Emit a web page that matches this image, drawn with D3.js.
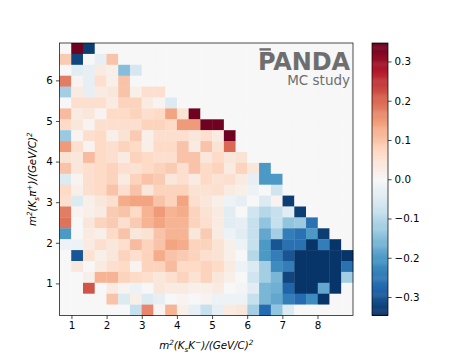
<!DOCTYPE html>
<html><head><meta charset="utf-8">
<script src="https://cdn.jsdelivr.net/npm/d3@7"></script>
<style>
html,body{margin:0;padding:0;background:#fff;}
text{font-family:"DejaVu Sans",sans-serif;}
</style></head>
<body>
<svg id="chart" width="474" height="355"></svg>
<script>
// ---- data ----
const nBins = 25;
const xRange = [0.66, 9.01];
const yRange = [0.21, 6.92];
const vRange = [-0.347, 0.347];
const xTicks = [1, 2, 3, 4, 5, 6, 7, 8];
const yTicks = [1, 2, 3, 4, 5, 6];
const cTicks = [-0.3, -0.2, -0.1, 0.0, 0.1, 0.2, 0.3];
// rows listed from top (highest y) to bottom, 25 columns each (low x -> high x)
const zRows = [
 [0.0,0.34,-0.33,0,0,0,0,0,0,0,0,0,0,0,0,0,0,0,0,0,0,0,0,0,0],
 [0.09,-0.32,0.0,-0.03,0.1,0,0,0,0,0,0,0,0,0,0,0,0,0,0,0,0,0,0,0,0],
 [0.0,-0.04,-0.03,0.03,0.02,-0.15,-0.06,0,0,0,0,0,0,0,0,0,0,0,0,0,0,0,0,0,0],
 [0.18,0.01,-0.03,0.06,0.02,0.1,0,0,0,0,0,0,0,0,0,0,0,0,0,0,0,0,0,0,0],
 [-0.12,0.03,-0.03,0.03,0.04,0.1,0.02,0.06,0.06,0,0,0,0,0,0,0,0,0,0,0,0,0,0,0,0],
 [0.0,0.06,0.06,0.06,0.03,0.08,0.08,0.03,0.01,-0.05,0,0,0,0,0,0,0,0,0,0,0,0,0,0,0],
 [0.11,0.03,0.04,0.01,0.07,0.07,0.08,0.06,0.07,0.14,0.05,0.34,0,0,0,0,0,0,0,0,0,0,0,0,0],
 [0.07,0.04,0.01,0.06,0.06,0.06,0.06,0.08,0.08,0.07,0.15,0.15,0.34,0.34,0,0,0,0,0,0,0,0,0,0,0],
 [-0.13,0.01,0.06,0.07,0.02,0.05,0.09,0.02,0.06,0.06,0.06,0.04,0.06,0.03,0.34,0,0,0,0,0,0,0,0,0,0],
 [0.15,0.06,0.01,0.07,0.06,0.08,0.07,0.02,0.07,0.07,0.1,0.03,0.1,0.05,0.2,0,0,0,0,0,0,0,0,0,0],
 [0.05,0.04,0.11,0.07,0.06,0.03,0.08,0.07,0.06,0.06,0.1,0.1,0.04,0.07,0.04,0.05,0,0,0,0,0,0,0,0,0],
 [0.1,0.04,0.06,0.07,0.08,0.06,0.05,0.07,0.08,0.09,0.06,0.1,0.07,0.08,0.03,0.08,0.04,-0.2,0,0,0,0,0,0,0],
 [-0.05,0.01,0.06,0.07,0.08,0.03,0.08,0.1,0.09,0.04,0.06,0.03,0.07,0.05,0.06,0.03,-0.03,-0.2,-0.2,0,0,0,0,0,0],
 [0.07,0.02,0.06,0.07,0.1,0.06,0.1,0.04,0.08,0.08,0.08,0.05,0.05,0.06,0.03,0.02,-0.02,0.0,-0.07,0,0,0,0,0,0],
 [0.06,-0.05,0.02,0.04,0.06,0.13,0.14,0.14,0.1,0.08,0.14,0.06,0.04,0.02,-0.02,-0.03,0.0,-0.05,0.01,-0.33,0,0,0,0,0],
 [0.18,0.01,0.02,0.03,0.09,0.1,0.07,0.12,0.15,0.12,0.13,0.08,0.05,0.03,-0.04,0.0,-0.07,-0.1,-0.08,-0.04,-0.33,0,0,0,0],
 [0.19,0.0,0.04,0.08,0.09,0.06,0.09,0.12,0.14,0.12,0.12,0.08,0.06,0.03,-0.04,-0.03,-0.08,-0.14,-0.08,-0.14,-0.13,-0.26,0,0,0],
 [-0.2,0.0,0.03,0.02,0.07,0.1,0.04,0.05,0.1,0.12,0.12,0.04,0.09,0.03,-0.02,-0.04,-0.08,-0.18,-0.12,-0.24,-0.26,-0.2,-0.33,0,0],
 [-0.02,-0.02,0.03,0.06,0.04,0.06,0.11,0.08,0.1,0.14,0.13,0.08,0.08,0.05,0.02,-0.02,-0.08,-0.2,-0.3,-0.26,-0.26,-0.34,-0.24,-0.34,0],
 [0.0,-0.3,0.05,0.02,0.04,0.08,0.06,0.08,0.13,0.1,0.09,0.08,0.06,0.05,0.02,0.0,-0.1,-0.2,-0.24,-0.3,-0.34,-0.34,-0.34,-0.34,-0.34],
 [0.0,0.04,0.0,0.03,0.06,0.07,0.01,0.08,0.08,0.11,0.07,0.07,0.08,0.07,0.03,-0.02,-0.05,-0.12,-0.22,-0.24,-0.34,-0.34,-0.34,-0.34,-0.26],
 [0.0,0.0,0.02,0.12,0.12,0.08,0.07,0.06,0.04,0.06,0.08,0.05,0.08,0.04,0.02,0.0,-0.07,-0.12,-0.16,-0.32,-0.34,-0.34,-0.34,-0.34,-0.12],
 [0.0,0.0,0.22,0.0,0.03,0.01,-0.02,0.0,0.04,0.03,0.03,0.02,0.02,0.03,0.0,-0.01,-0.04,-0.16,-0.17,-0.28,-0.34,-0.34,-0.18,-0.34,0],
 [0.0,0.0,0.0,0.0,0.1,-0.05,0.02,-0.05,-0.03,0.0,0.01,0.0,0.01,-0.02,-0.02,-0.02,-0.08,-0.16,-0.18,-0.24,-0.27,-0.22,-0.34,0,0],
 [0,0,0,0,0,0,-0.08,0.17,0.01,0.12,0.02,-0.03,-0.08,-0.03,0.03,0.04,-0.12,-0.27,-0.14,-0.05,0,0,0,0,0]
];
const rdbuColors = ["#053061","#2166ac","#4393c3","#92c5de","#d1e5f0","#f7f7f7","#fddbc7","#f4a582","#d6604d","#b2182b","#67001f"];

// ---- layout ----
const svg = d3.select("#chart");
const L = 59.5, R = 353, T = 43, B = 315.5;
const x = d3.scaleLinear().domain(xRange).range([L, R]);
const y = d3.scaleLinear().domain(yRange).range([B, T]);
const color = d3.scaleLinear()
  .domain(d3.range(11).map(i => vRange[0] + i * (vRange[1] - vRange[0]) / 10))
  .range(rdbuColors).interpolate(d3.interpolateRgb).clamp(true);

const xEdges = d3.range(nBins + 1).map(i => xRange[0] + i * (xRange[1] - xRange[0]) / nBins);
const yEdges = d3.range(nBins + 1).map(i => yRange[0] + i * (yRange[1] - yRange[0]) / nBins);

const cells = [];
zRows.forEach((row, ri) => {
  const yi = nBins - 1 - ri;
  row.forEach((v, ci) => cells.push({x0: xEdges[ci], x1: xEdges[ci + 1], y0: yEdges[yi], y1: yEdges[yi + 1], v}));
});

svg.append("g").selectAll("rect").data(cells).join("rect")
  .attr("x", d => x(d.x0)).attr("y", d => y(d.y1))
  .attr("width", d => x(d.x1) - x(d.x0) + 0.3)
  .attr("height", d => y(d.y0) - y(d.y1) + 0.3)
  .attr("fill", d => color(d.v));

// axes
const fs = 10.3;
const xAxis = svg.append("g").attr("transform", `translate(0,${B})`)
  .call(d3.axisBottom(x).tickValues(xTicks).tickFormat(d3.format("d")).tickSize(3.6).tickPadding(3));
const yAxis = svg.append("g").attr("transform", `translate(${L},0)`)
  .call(d3.axisLeft(y).tickValues(yTicks).tickFormat(d3.format("d")).tickSize(3.6).tickPadding(3));
[xAxis, yAxis].forEach(g => {
  g.select(".domain").remove();
  g.selectAll("text").attr("font-size", fs).attr("font-family", "DejaVu Sans").attr("fill", "#000");
  g.selectAll("line").attr("stroke", "#000").attr("stroke-width", 0.7);
});
svg.append("rect").attr("x", L).attr("y", T).attr("width", R - L).attr("height", B - T)
  .attr("fill", "none").attr("stroke", "#000").attr("stroke-width", 0.7);

// axis labels
const xl = svg.append("text").attr("x", (L + R) / 2).attr("y", 349).attr("text-anchor", "middle")
  .attr("font-size", fs).attr("font-style", "italic");
function fillLabel(t, parts) {
  parts.forEach(p => {
    const ts = t.append("tspan").text(p.t);
    if (p.s === "sup") ts.attr("font-size", fs * 0.7).attr("dy", -4);
    if (p.s === "sub") ts.attr("font-size", fs * 0.7).attr("dy", 2.5);
    if (p.back) ts.attr("dy", p.back);
  });
}
fillLabel(xl, [
  {t: "m"}, {t: "2", s: "sup"}, {t: "(K", back: 4}, {t: "s", s: "sub"}, {t: "K", back: -2.5},
  {t: "\u2212", s: "sup"}, {t: ")/(GeV/C)", back: 4}, {t: "2", s: "sup"}
]);
const yl = svg.append("text").attr("transform", `translate(36,${(T + B) / 2}) rotate(-90)`)
  .attr("text-anchor", "middle").attr("font-size", fs).attr("font-style", "italic");
fillLabel(yl, [
  {t: "m"}, {t: "2", s: "sup"}, {t: "(K", back: 4}, {t: "s", s: "sub"}, {t: "\u03c0", back: -2.5},
  {t: "+", s: "sup"}, {t: ")/(GeV/C)", back: 4}, {t: "2", s: "sup"}
]);

// logo
const logoColor = "#6e6e6e";
const logo = svg.append("text").attr("x", 350).attr("y", 70).attr("text-anchor", "end")
  .attr("font-family", "Liberation Sans, Arial, sans-serif").attr("font-weight", "bold")
  .attr("font-size", 24).attr("fill", logoColor).attr("textLength", 92).attr("lengthAdjust", "spacing")
  .text("PANDA");
const pBox = logo.node().getExtentOfChar(0);
svg.append("rect").attr("x", pBox.x + 1.5).attr("y", 48.2).attr("width", pBox.width - 4).attr("height", 2.4).attr("fill", logoColor);
svg.append("text").attr("x", 350).attr("y", 84.5).attr("text-anchor", "end")
  .attr("font-family", "Liberation Sans, Arial, sans-serif").attr("font-size", 13.5)
  .attr("fill", logoColor).text("MC study");

// colorbar
const cbL = 372, cbW = 16;
const cy = d3.scaleLinear().domain(vRange).range([B, T]);
const steps = 256;
svg.append("g").selectAll("rect").data(d3.range(steps)).join("rect")
  .attr("x", cbL).attr("width", cbW)
  .attr("y", i => cy(vRange[0] + (i + 1) * (vRange[1] - vRange[0]) / steps))
  .attr("height", (B - T) / steps + 0.5)
  .attr("fill", i => color(vRange[0] + (i + 0.5) * (vRange[1] - vRange[0]) / steps));
svg.append("rect").attr("x", cbL).attr("y", T).attr("width", cbW).attr("height", B - T)
  .attr("fill", "none").attr("stroke", "#000").attr("stroke-width", 0.7);
const cAxis = svg.append("g").attr("transform", `translate(${cbL + cbW},0)`)
  .call(d3.axisRight(cy).tickValues(cTicks).tickFormat(d => d3.format(".1f")(d).replace("-", "\u2212")).tickSize(3.6).tickPadding(3));
cAxis.select(".domain").remove();
cAxis.selectAll("text").attr("font-size", fs).attr("font-family", "DejaVu Sans").attr("fill", "#000");
cAxis.selectAll("line").attr("stroke", "#000").attr("stroke-width", 0.7);
</script>
</body></html>
